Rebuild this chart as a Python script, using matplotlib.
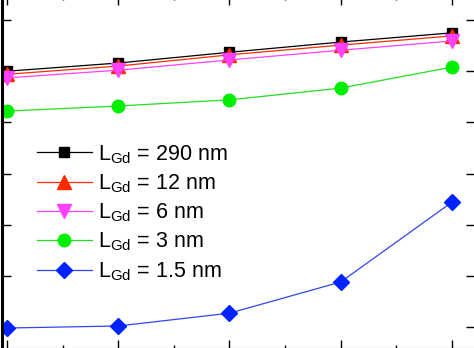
import matplotlib
matplotlib.use("Agg")
import matplotlib.pyplot as plt
from matplotlib.ticker import MultipleLocator

plt.rcParams['font.family'] = ['Liberation Sans', 'DejaVu Sans']
plt.rcParams['mathtext.fontset'] = 'custom'
plt.rcParams['mathtext.rm'] = 'Liberation Sans'
plt.rcParams['mathtext.it'] = 'Liberation Sans:italic'

# x positions of the five measurement points
x = [1, 2, 3, 4, 5]

# one series per Gd layer thickness
y_290nm = [5.00, 5.16, 5.37, 5.57, 5.75]
y_12nm = [4.94, 5.10, 5.32, 5.51, 5.69]
y_6nm = [4.87, 5.02, 5.22, 5.41, 5.59]
y_3nm = [4.22, 4.32, 4.44, 4.67, 5.08]
y_1p5nm = [-0.02, 0.02, 0.27, 0.88, 2.44]

labels = [r'$\mathregular{L_{Gd}}$ = 290 nm',
          r'$\mathregular{L_{Gd}}$ = 12 nm',
          r'$\mathregular{L_{Gd}}$ = 6 nm',
          r'$\mathregular{L_{Gd}}$ = 3 nm',
          r'$\mathregular{L_{Gd}}$ = 1.5 nm']

W, H = 474, 348
fig = plt.figure(figsize=(W / 100, H / 100), dpi=100)
ax = fig.add_axes([2 / W, -1 / H, 473 / W, 353 / H])

ax.plot(x, y_290nm, '-s', color='black', lw=0.9, ms=7, mfc='black', mec='black', label=labels[0])
ax.plot(x, y_12nm, '-^', color='#ff2a00', lw=0.9, ms=10, mfc='#ff2a00', mec='#ff2a00', label=labels[1])
ax.plot(x, y_6nm, '-v', color='#ff40ff', lw=0.9, ms=10, mfc='#ff40ff', mec='#ff40ff', label=labels[2])
ax.plot(x, y_3nm, '-o', color='#22dd22', lw=0.9, ms=9, mfc='#00ee00', mec='#00ee00', label=labels[3])
ax.plot(x, y_1p5nm, '-D', color='#3344ee', lw=0.9, ms=8, mfc='#0022ff', mec='#0022ff', label=labels[4])

ax.set_xlim(0.955, 5.207)
ax.set_ylim(-0.43, 6.47)
ax.xaxis.set_major_locator(MultipleLocator(1))
ax.xaxis.set_minor_locator(MultipleLocator(0.5))
ax.yaxis.set_major_locator(MultipleLocator(1))

ax.tick_params(which='both', direction='in', top=True, right=True,
               labelbottom=False, labelleft=False, width=1.0)
ax.tick_params(which='major', length=6.5)
ax.tick_params(which='minor', length=3.2)
ax.tick_params(axis='y', which='minor', left=False, right=False)
for s in ax.spines.values():
    s.set_linewidth(2.2)

leg = ax.legend(loc='upper left', bbox_to_anchor=(37 / W, 1 - 143 / H),
                bbox_transform=fig.transFigure, frameon=False,
                fontsize=15.5, handlelength=2.55, handletextpad=0.3,
                labelspacing=0.31, borderpad=0, borderaxespad=0)

fig.savefig('out.png', dpi=100)
